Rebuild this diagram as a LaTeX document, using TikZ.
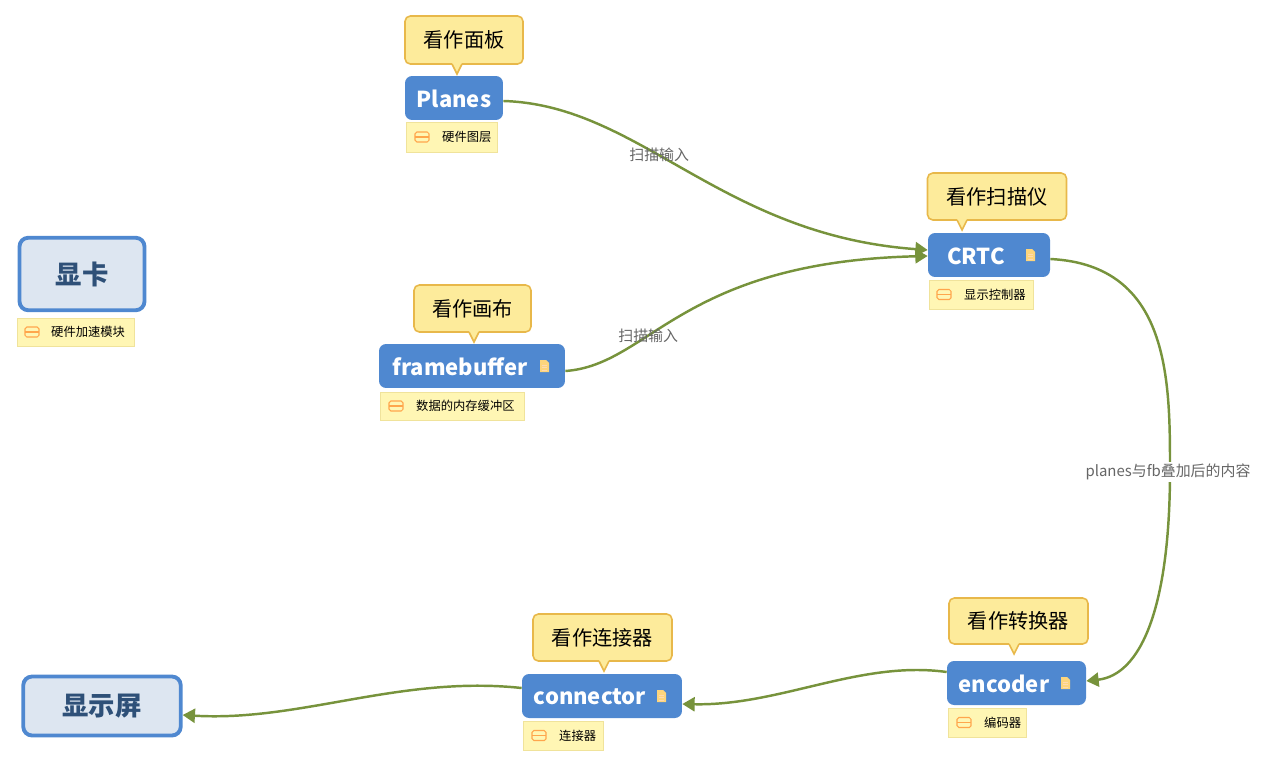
\documentclass[tikz,border=0pt]{standalone}
\usepackage{fontspec}
\setmainfont{Noto Sans CJK SC}
\usetikzlibrary{arrows.meta}
\definecolor{blu}{HTML}{4F88D0}
\definecolor{olv}{HTML}{77933C}
\definecolor{cfill}{HTML}{FDEB9B}
\definecolor{cdraw}{HTML}{E8B84A}
\definecolor{lfill}{HTML}{FFF6B4}
\definecolor{ldraw}{HTML}{F0E39B}
\definecolor{pale}{HTML}{DDE6F1}
\definecolor{dtext}{HTML}{2E5078}
\tikzset{
 box/.style={fill=blu,rounded corners=4pt,inner sep=0pt},
 btxt/.style={text=white,font=\bfseries\fontsize{12.5}{14}\selectfont,inner sep=0pt},
 callout/.style={fill=cfill,draw=cdraw,line width=0.9pt,rounded corners=3pt,inner sep=0pt,font=\fontsize{11.5}{13}\selectfont},
 lab/.style={fill=lfill,draw=ldraw,line width=0.5pt,inner sep=0pt,font=\fontsize{7}{8}\selectfont},
 topbox/.style={fill=pale,draw=blu,line width=2.2pt,rounded corners=5pt,inner sep=0pt,text=dtext,font=\bfseries\fontsize{15}{17}\selectfont},
 edge/.style={olv,line width=1.4pt,-{Triangle[length=7pt,width=8pt]}},
 elab/.style={text=black!60,font=\itshape\fontsize{8.5}{10}\selectfont,inner sep=1pt},
}
\newcommand{\docicon}[1]{\fill[cfill!80!orange] ($(#1)+(-4,-6)$) -- ++(6,0) -- ++(3,3) -- ++(0,9) -- ++(-9,0) -- cycle;
 \draw[white!70!orange,line width=0.4pt] ($(#1)+(-2,-1)$) -- ++(5,0) ($(#1)+(-2,1.5)$) -- ++(5,0) ($(#1)+(-2,4)$) -- ++(5,0);}
\newcommand{\labicon}[1]{\draw[orange!70,line width=0.6pt,rounded corners=1pt] ($(#1)+(-7,-5)$) rectangle ($(#1)+(7,5)$); \draw[orange!70,line width=0.6pt] ($(#1)+(-7,0)$) -- ($(#1)+(7,0)$);}
\newcommand{\tail}[1]{\fill[cfill] ($(#1)+(-5,-1)$) -- ($(#1)+(0,10)$) -- ($(#1)+(5,-1)$) -- cycle;
 \draw[cdraw,line width=0.9pt] ($(#1)+(-5,0)$) -- ($(#1)+(0,10)$) -- ($(#1)+(5,0)$);}
\usetikzlibrary{calc}
\begin{document}
\begin{tikzpicture}[x=0.02cm,y=-0.02cm]
\useasboundingbox (0,0) rectangle (1281,767);
% top-level
\node[topbox,minimum width=2.5cm,minimum height=1.45cm] (gpu) at (82,274) {显卡};
\node[lab,minimum width=2.34cm,minimum height=0.56cm] (gpul) at (75.5,332) {};
\labicon{32,332}\node[font=\fontsize{7}{8}\selectfont,anchor=west] (gpult) at (45,332) {硬件加速模块};
\node[topbox,minimum width=3.15cm,minimum height=1.18cm] (scr) at (102,706) {显示屏};
% Planes
\node[callout,minimum width=2.36cm,minimum height=0.96cm] (pc) at (464,40) {看作面板};
\tail{457,64}
\node[box,minimum width=1.96cm,minimum height=0.88cm] (planes) at (454,98) {};
\node[btxt] (planest) at (454,99) {Planes};
\node[lab,minimum width=1.82cm,minimum height=0.6cm] (pl) at (451.5,137) {};
\labicon{422,137}\node[font=\fontsize{7}{8}\selectfont,anchor=west] (plt) at (436,137) {硬件图层};
% CRTC
\node[callout,minimum width=2.78cm,minimum height=0.94cm] (cc) at (997,196.5) {看作扫描仪};
\tail{962,220}
\node[box,minimum width=2.44cm,minimum height=0.88cm] (crtc) at (989,255) {};
\node[btxt] (crtct) at (976,256) {CRTC};
\docicon{1030,255}
\node[lab,minimum width=2.08cm,minimum height=0.58cm] (crl) at (981,294.5) {};
\labicon{944,294.5}\node[font=\fontsize{7}{8}\selectfont,anchor=west] (crlt) at (958,294.5) {显示控制器};
% framebuffer
\node[callout,minimum width=2.34cm,minimum height=0.94cm] (fc) at (472.5,308.5) {看作画布};
\tail{474,332}
\node[box,minimum width=3.72cm,minimum height=0.88cm] (fb) at (472,366) {};
\node[btxt] (fbt) at (460,367) {framebuffer};
\docicon{544,366}
\node[lab,minimum width=2.88cm,minimum height=0.56cm] (fbl) at (452,406) {};
\labicon{396,406}\node[font=\fontsize{7}{8}\selectfont,anchor=west] (fblt) at (410,406) {数据的内存缓冲区};
% encoder
\node[callout,minimum width=2.78cm,minimum height=0.92cm] (ec) at (1018.5,621) {看作转换器};
\tail{1014,644}
\node[box,minimum width=2.78cm,minimum height=0.88cm] (enc) at (1016.5,683) {};
\node[btxt] (enct) at (1004,684) {encoder};
\docicon{1065,683}
\node[lab,minimum width=1.56cm,minimum height=0.58cm] (encl) at (987,722.5) {};
\labicon{964,722.5}\node[font=\fontsize{7}{8}\selectfont,anchor=west] (enclt) at (978,722.5) {编码器};
% connector
\node[callout,minimum width=2.78cm,minimum height=0.94cm] (coc) at (602.5,637.5) {看作连接器};
\tail{604,661}
\node[box,minimum width=3.2cm,minimum height=0.88cm] (con) at (602,696) {};
\node[btxt] (cont) at (590,697) {connector};
\docicon{661,696}
\node[lab,minimum width=1.6cm,minimum height=0.58cm] (conl) at (563,735.5) {};
\labicon{539,735.5}\node[font=\fontsize{7}{8}\selectfont,anchor=west] (conlt) at (553,735.5) {连接器};
% edges
\coordinate (p1) at (planes.east);
\draw[edge] ([yshift=-0.06cm]planes.east) .. controls (640,105) and (720,235) .. ([yshift=0.1cm]crtc.west)
  node[elab,pos=0.42] (e1) {扫描输入};
\draw[edge] ([yshift=-0.1cm]fb.east) .. controls (650,365) and (680,262) .. ([yshift=-0.02cm]crtc.west)
  node[elab,pos=0.36] (e2) {扫描输入};
\coordinate (mid) at (1170,470);
\draw[olv,line width=1.4pt] ([yshift=-0.08cm]crtc.east) .. controls (1170,265) and (1170,380) .. (mid);
\draw[edge] (mid) .. controls (1170,610) and (1140,675) .. ([yshift=0.04cm]enc.east);
\node[elab,fill=white] (e3) at (1168,472) {planes与fb叠加后的内容};
\draw[edge] ([yshift=0.22cm]enc.west) .. controls (860,660) and (780,706) .. ([yshift=-0.16cm]con.east);
\draw[edge] ([yshift=0.16cm]con.west) .. controls (400,675) and (300,722) .. ([yshift=-0.18cm]scr.east);
\end{tikzpicture}
\end{document}
